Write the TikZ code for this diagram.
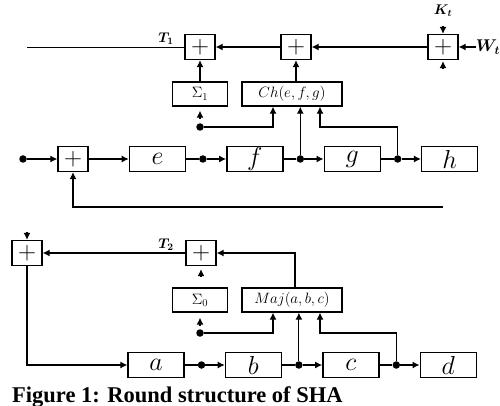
\RequirePackage{fix-cm}
\documentclass[tikz,border=0pt]{standalone}
\usepackage{bm}
\usepackage{fontspec}
\setmainfont{Liberation Serif}
\usetikzlibrary{arrows.meta,
                positioning,
                calc}
\tikzset{
       arr/.style = {-{Latex[length=7pt, width=7pt]}, line width=1.1pt},  % <--- arrow heads
      base/.style = {draw, line width=1.4pt, inner sep=0pt, minimum height=25pt},
       reg/.style = {base, minimum width=56pt, font=\fontsize{26}{26}\selectfont},
     adder/.style = {base, minimum width=30pt, font=\fontsize{25}{25}\selectfont},
      func/.style = {base, minimum height=24pt, font=\fontsize{15}{15}\selectfont},
       dot/.style = {circle, fill, inner sep=0pt, minimum size=7.5pt},
       lbl/.style = {inner sep=0pt, font=\fontsize{14}{14}\selectfont},
        }

\begin{document}
\begin{tikzpicture}[x=1pt, y=-1pt]
\useasboundingbox (0,0) rectangle (500,406);

  % registers e f g h
  \node[dot] (in1) at (23,159) {};
  \node[adder] (p4) at (73,159) {$+$};
  \node[reg, right=40pt of p4] (e) {$e$};
  \node[reg, right=40pt of e] (f) {$f$};
  \node[reg, right=40pt of f] (g) {$g$};
  \node[reg, right=40pt of g] (h) {$h$};
  \node[dot] (d1) at ($(e.east)!.42!(f.west)$) {};
  \node[dot] (d2) at ($(f.east)!.42!(g.west)$) {};
  \node[dot] (d3) at ($(g.east)!.42!(h.west)$) {};

  \node[adder] (p1) at (200,47) {$+$};
  \node[adder] (p2) at (296,47) {$+$};
  \node[adder] (p3) at (443,47) {$+$};
  \node[func, minimum width=55pt] (s1) at (200,94) {$\Sigma_1$};
  \node[func, minimum width=100pt] (ch) at (292,94) {$Ch(e,f,g)$};
  \node[dot] (s1in) at (200,127) {};
  \node[lbl] (t1) at (166,39) {$\bm{T_1}$};
  \node[lbl] (kt) at (443,11) {$\bm{K_t}$};
  \node[lbl, font=\fontsize{17}{17}\selectfont] (wt) at (488,47) {$\bm{W_t}$};
  \coordinate (t1out) at (27,47);
  \coordinate (fb) at (443,207);

  \draw[line width=0.8pt] (t1out) -- (p1);
  \draw[arr] (p2) -- (p1);
  \draw[arr] (p3) -- (p2);
  \draw[arr] (wt) -- (p3);
  \draw[arr] ($(p3.north)+(0,-8)$) -- (p3.north);
  \draw[arr] ($(p3.south)+(0,9)$) -- ($(p3.south)+(0,1)$);
  \draw[arr] (s1) -- (p1);
  \draw[arr] (ch.north -| p2) -- (p2);
  \draw[arr] ($(s1.south)+(0,12)$) -- ($(s1.south)+(0,4)$);
  \draw[arr] (s1in) -| ([xshift=-19pt]ch.south);
  \draw[arr] (d2) -- (d2 |- ch.south);
  \draw[arr] (d3) -- ++(0,-32) -| ([xshift=28pt]ch.south);
  \draw[arr] (in1) -- (p4);
  \draw[arr] (p4) -- (e);
  \draw[line width=1.1pt] (e) -- (d1);
  \draw[arr] (d1) -- (f);
  \draw[line width=1.1pt] (f) -- (d2);
  \draw[arr] (d2) -- (g);
  \draw[line width=1.1pt] (g) -- (d3);
  \draw[arr] (d3) -- (h);
  \draw[arr] (fb) -| (p4.south);

  % registers a b c d
  \node[adder] (p5) at (27,253) {$+$};
  \node[adder] (p6) at (201,253) {$+$};
  \node[func, minimum width=55pt] (s0) at (200,300) {$\Sigma_0$};
  \node[func, minimum width=100pt] (maj) at (292,300) {$Maj(a,b,c)$};
  \node[dot] (s0in) at (200,333) {};
  \node[lbl] (t2) at (166,245) {$\bm{T_2}$};
  \node[reg] (a) at (156,365) {$a$};
  \node[reg, right=40pt of a] (b) {$b$};
  \node[reg, right=40pt of b] (c) {$c$};
  \node[reg, right=40pt of c] (d) {$d$};
  \node[dot] (d4) at ($(a.east)!.42!(b.west)$) {};
  \node[dot] (d5) at ($(b.east)!.42!(c.west)$) {};
  \node[dot] (d6) at ($(c.east)!.42!(d.west)$) {};

  \draw[arr] ($(p5.north)+(0,-8)$) -- (p5.north);
  \draw[arr] (p6) -- (p5);
  \draw[arr] ([xshift=3pt]maj.north) |- (p6.east);
  \draw[arr] ($(p6.south)+(0,11)$) -- ($(p6.south)+(0,3)$);
  \draw[arr] ($(s0.south)+(0,13)$) -- ($(s0.south)+(0,5)$);
  \draw[arr] (s0in) -| ([xshift=-19pt]maj.south);
  \draw[arr] (d5) -- (d5 |- maj.south);
  \draw[arr] (d6) -- ++(0,-32) -| ([xshift=28pt]maj.south);
  \draw[arr] (p5.south) |- (a.west);
  \draw[line width=1.1pt] (a) -- (d4);
  \draw[arr] (d4) -- (b);
  \draw[line width=1.1pt] (b) -- (d5);
  \draw[arr] (d5) -- (c);
  \draw[line width=1.1pt] (c) -- (d6);
  \draw[arr] (d6) -- (d);

  \node[anchor=base west, inner sep=0pt, font=\bfseries\fontsize{22.5}{22.5}\selectfont] (cap) at (12,402) {Figure 1: Round structure of SHA};
\end{tikzpicture}
\end{document}
